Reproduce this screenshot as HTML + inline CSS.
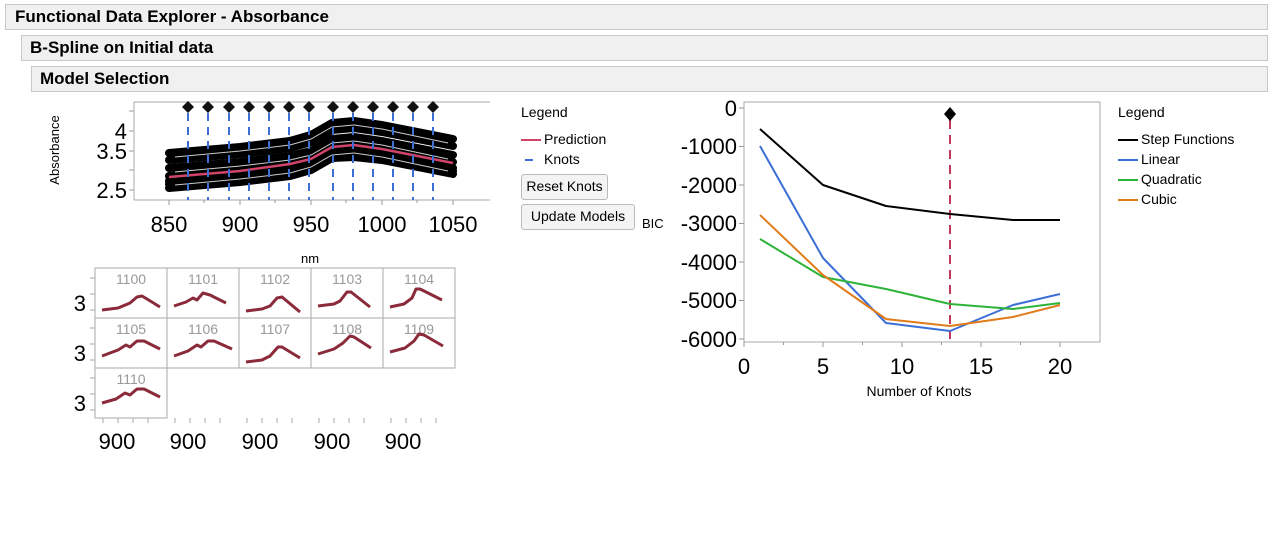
<!DOCTYPE html>
<html><head><meta charset="utf-8"><style>
body{margin:0;background:#fff;width:1270px;height:538px;overflow:hidden;font-family:"Liberation Sans",sans-serif}
.h{position:absolute;background:#f0f0f0;border:1px solid #c8c8c8;font-weight:bold;font-size:17px;color:#000;box-sizing:border-box;padding-left:8px;line-height:24px}
.t{position:absolute;font-size:14px;color:#000;white-space:nowrap}
.btn{position:absolute;border:1px solid #bbb;border-radius:3px;background:#f4f4f4;font-size:14px;box-sizing:border-box;text-align:center;line-height:23px}
</style></head><body>
<div class="h" style="left:5px;top:4px;width:1263px;height:26px;padding-left:9px">Functional Data Explorer - Absorbance</div>
<div class="h" style="left:21px;top:35px;width:1247px;height:26px">B-Spline on Initial data</div>
<div class="h" style="left:31px;top:66px;width:1237px;height:26px">Model Selection</div>

<svg width="1270" height="538" style="position:absolute;left:0;top:0" font-family="Liberation Sans, sans-serif">
<!-- left top chart -->
<g>
<line x1="134" y1="102" x2="490" y2="102" stroke="#aaa"/>
<line x1="134" y1="102" x2="134" y2="200" stroke="#aaa"/>
<line x1="134" y1="200" x2="490" y2="200" stroke="#aaa"/>
<g stroke="#999" stroke-width="1">
<line x1="129" y1="111" x2="134" y2="111"/><line x1="129" y1="131" x2="134" y2="131"/><line x1="129" y1="151" x2="134" y2="151"/><line x1="129" y1="170" x2="134" y2="170"/><line x1="129" y1="190" x2="134" y2="190"/>
<line x1="169" y1="200" x2="169" y2="205"/><line x1="240" y1="200" x2="240" y2="205"/><line x1="311" y1="200" x2="311" y2="205"/><line x1="382" y1="200" x2="382" y2="205"/><line x1="453" y1="200" x2="453" y2="205"/>
<line x1="204" y1="200" x2="204" y2="203"/><line x1="275" y1="200" x2="275" y2="203"/><line x1="346" y1="200" x2="346" y2="203"/><line x1="417" y1="200" x2="417" y2="203"/>
</g>
<g font-size="22" text-anchor="end"><text x="127" y="139">4</text><text x="127" y="159">3.5</text><text x="127" y="198">2.5</text></g>
<g font-size="22" text-anchor="middle"><text x="169" y="232">850</text><text x="240" y="232">900</text><text x="311" y="232">950</text><text x="382" y="232">1000</text><text x="453" y="232">1050</text></g>
<text x="310" y="263" font-size="13" text-anchor="middle">nm</text>
<text transform="translate(59,150) rotate(-90)" font-size="13" text-anchor="middle">Absorbance</text>
<g fill="none" stroke="#000" stroke-width="8" stroke-linejoin="round" stroke-linecap="round">
<polyline points="169,153 240,147 290,141 311,135 332,123 354,121 382,125 453,139"/>
<polyline points="169,160 240,154 290,148 311,142 332,130 354,128 382,132 453,146"/>
<polyline points="169,168 240,162 290,156 311,151 332,139 354,137 382,141 453,155"/>
<polyline points="169,176 240,170 290,164 311,158 332,147 354,145 382,149 453,162"/>
<polyline points="169,181 240,175 290,169 311,164 332,152 354,150 382,154 453,168"/>
<polyline points="169,188 240,182 290,176 311,170 332,158 354,157 382,160 453,174"/>
<polyline points="169,184 240,178 290,172 311,167 332,155 354,153 382,157 453,171"/>
</g>
<g fill="none" stroke="#fff" stroke-width="1" opacity="0.8">
<polyline points="175,157 240,151 290,145 311,139 332,127 354,125 382,129 448,143"/>
<polyline points="175,172 240,166 290,160 311,155 332,143 354,141 382,145 448,159"/>
<polyline points="175,185 240,179 290,173 311,167 332,155 354,153 382,157 448,171"/>
</g>
<polyline fill="none" stroke="#d0446a" stroke-width="2.5" points="169,177 240,171 290,164 311,159 332,147 354,145 382,149 453,163"/>
<g stroke="#3b6fd6" stroke-width="2" stroke-dasharray="8,6">
<line x1="188" y1="113" x2="188" y2="200"/><line x1="208" y1="113" x2="208" y2="200"/><line x1="229" y1="113" x2="229" y2="200"/><line x1="249" y1="113" x2="249" y2="200"/><line x1="269" y1="113" x2="269" y2="200"/><line x1="289" y1="113" x2="289" y2="200"/><line x1="309" y1="113" x2="309" y2="200"/><line x1="333" y1="113" x2="333" y2="200"/><line x1="353" y1="113" x2="353" y2="200"/><line x1="373" y1="113" x2="373" y2="200"/><line x1="393" y1="113" x2="393" y2="200"/><line x1="413" y1="113" x2="413" y2="200"/><line x1="433" y1="113" x2="433" y2="200"/>
</g>
<g fill="#111">
<path d="M188,101 l6,6 l-6,6 l-6,-6z"/><path d="M208,101 l6,6 l-6,6 l-6,-6z"/><path d="M229,101 l6,6 l-6,6 l-6,-6z"/><path d="M249,101 l6,6 l-6,6 l-6,-6z"/><path d="M269,101 l6,6 l-6,6 l-6,-6z"/><path d="M289,101 l6,6 l-6,6 l-6,-6z"/><path d="M309,101 l6,6 l-6,6 l-6,-6z"/><path d="M333,101 l6,6 l-6,6 l-6,-6z"/><path d="M353,101 l6,6 l-6,6 l-6,-6z"/><path d="M373,101 l6,6 l-6,6 l-6,-6z"/><path d="M393,101 l6,6 l-6,6 l-6,-6z"/><path d="M413,101 l6,6 l-6,6 l-6,-6z"/><path d="M433,101 l6,6 l-6,6 l-6,-6z"/>
</g>
</g>

<!-- small multiples -->
<g stroke="#aaa" fill="none">
<rect x="95" y="268" width="360" height="50"/>
<line x1="95" y1="318" x2="455" y2="318"/>
<line x1="167" y1="268" x2="167" y2="418"/><line x1="239" y1="268" x2="239" y2="368"/><line x1="311" y1="268" x2="311" y2="368"/><line x1="383" y1="268" x2="383" y2="368"/>
<rect x="95" y="318" width="360" height="50"/>
<rect x="95" y="368" width="72" height="50"/>
</g>
<g stroke="#aaa">
<line x1="90" y1="278" x2="95" y2="278"/><line x1="90" y1="294" x2="95" y2="294"/><line x1="90" y1="310" x2="95" y2="310"/>
<line x1="90" y1="328" x2="95" y2="328"/><line x1="90" y1="344" x2="95" y2="344"/><line x1="90" y1="360" x2="95" y2="360"/>
<line x1="90" y1="378" x2="95" y2="378"/><line x1="90" y1="394" x2="95" y2="394"/><line x1="90" y1="410" x2="95" y2="410"/>
<line x1="103" y1="418" x2="103" y2="423"/><line x1="118" y1="418" x2="118" y2="423"/><line x1="133" y1="418" x2="133" y2="423"/><line x1="148" y1="418" x2="148" y2="423"/>
<line x1="175" y1="418" x2="175" y2="423"/><line x1="190" y1="418" x2="190" y2="423"/><line x1="205" y1="418" x2="205" y2="423"/><line x1="220" y1="418" x2="220" y2="423"/>
<line x1="247" y1="418" x2="247" y2="423"/><line x1="262" y1="418" x2="262" y2="423"/><line x1="277" y1="418" x2="277" y2="423"/><line x1="292" y1="418" x2="292" y2="423"/>
<line x1="319" y1="418" x2="319" y2="423"/><line x1="334" y1="418" x2="334" y2="423"/><line x1="349" y1="418" x2="349" y2="423"/><line x1="364" y1="418" x2="364" y2="423"/>
<line x1="391" y1="418" x2="391" y2="423"/><line x1="406" y1="418" x2="406" y2="423"/><line x1="421" y1="418" x2="421" y2="423"/><line x1="436" y1="418" x2="436" y2="423"/>
</g>
<g font-size="14" fill="#999" text-anchor="middle">
<text x="131" y="284">1100</text><text x="203" y="284">1101</text><text x="275" y="284">1102</text><text x="347" y="284">1103</text><text x="419" y="284">1104</text>
<text x="131" y="334">1105</text><text x="203" y="334">1106</text><text x="275" y="334">1107</text><text x="347" y="334">1108</text><text x="419" y="334">1109</text>
<text x="131" y="384">1110</text>
</g>
<g font-size="22" text-anchor="end"><text x="86" y="311">3</text><text x="86" y="361">3</text><text x="86" y="411">3</text></g>
<g font-size="22" text-anchor="middle"><text x="117" y="449">900</text><text x="188" y="449">900</text><text x="260" y="449">900</text><text x="332" y="449">900</text><text x="403" y="449">900</text></g>
<g fill="none" stroke="#8a2a3a" stroke-width="3" stroke-linejoin="round">
<polyline points="102,310 118,308 130,303 137,297 142,296 147,299 160,307"/>
<polyline points="174,306 186,302 193,298 197,300 203,293 210,295 226,303"/>
<polyline points="246,311 262,309 270,306 277,298 282,297 300,312"/>
<polyline points="318,306 334,304 340,301 347,292 351,292 370,307"/>
<polyline points="390,307 404,304 412,298 416,289 420,289 442,300"/>
<polyline points="102,356 118,350 126,345 130,347 137,341 144,341 160,349"/>
<polyline points="174,356 188,351 197,345 201,347 208,341 214,341 232,349"/>
<polyline points="246,362 262,360 270,356 278,347 282,347 300,358"/>
<polyline points="318,354 334,349 343,343 350,336 354,337 371,348"/>
<polyline points="390,352 405,348 414,341 419,334 424,335 443,346"/>
<polyline points="102,403 116,399 125,393 130,395 137,389 144,389 160,397"/>
</g>

<!-- right chart -->
<g>
<rect x="744" y="102" width="356" height="240" fill="none" stroke="#aaa"/>
<g stroke="#999">
<line x1="739" y1="108" x2="744" y2="108"/><line x1="739" y1="146.5" x2="744" y2="146.5"/><line x1="739" y1="185" x2="744" y2="185"/><line x1="739" y1="223.5" x2="744" y2="223.5"/><line x1="739" y1="262" x2="744" y2="262"/><line x1="739" y1="300.5" x2="744" y2="300.5"/><line x1="739" y1="339" x2="744" y2="339"/>
<line x1="744" y1="342" x2="744" y2="347"/><line x1="823" y1="342" x2="823" y2="347"/><line x1="902" y1="342" x2="902" y2="347"/><line x1="981" y1="342" x2="981" y2="347"/><line x1="1060" y1="342" x2="1060" y2="347"/>
<line x1="783.5" y1="342" x2="783.5" y2="345"/><line x1="862.5" y1="342" x2="862.5" y2="345"/><line x1="941.5" y1="342" x2="941.5" y2="345"/><line x1="1020.5" y1="342" x2="1020.5" y2="345"/>
</g>
<g font-size="22" text-anchor="end"><text x="737" y="116">0</text><text x="737" y="154">-1000</text><text x="737" y="193">-2000</text><text x="737" y="231">-3000</text><text x="737" y="270">-4000</text><text x="737" y="308">-5000</text><text x="737" y="347">-6000</text></g>
<g font-size="22" text-anchor="middle"><text x="744" y="374">0</text><text x="823" y="374">5</text><text x="902" y="374">10</text><text x="981" y="374">15</text><text x="1060" y="374">20</text></g>
<text x="919" y="396" font-size="14" text-anchor="middle">Number of Knots</text>
<text x="642" y="228" font-size="13">BIC</text>
<line x1="950" y1="120" x2="950" y2="342" stroke="#c0395a" stroke-width="2" stroke-dasharray="9,6"/>
<path d="M950,107 l6,7 l-6,7 l-6,-7z" fill="#000"/>
<g fill="none" stroke-width="2" stroke-linejoin="round">
<polyline stroke="#000" points="760,129 823,185 886,206 950,214 1013,220 1060,220"/>
<polyline stroke="#3b6fd6" points="760,146 823,258 886,323 950,331 1013,305 1060,294"/>
<polyline stroke="#2db33a" points="760,239 823,277 886,289 950,304 1013,309 1060,303"/>
<polyline stroke="#e07c1a" points="760,215 823,275 886,319 950,326 1013,317 1060,305"/>
</g>
</g>

<!-- legends -->
<line x1="521" y1="140" x2="541" y2="140" stroke="#d0446a" stroke-width="2"/>
<line x1="525" y1="160" x2="533" y2="160" stroke="#3b6fd6" stroke-width="2"/>
<line x1="1118" y1="140" x2="1138" y2="140" stroke="#000" stroke-width="2"/>
<line x1="1118" y1="160" x2="1138" y2="160" stroke="#3b6fd6" stroke-width="2"/>
<line x1="1118" y1="180" x2="1138" y2="180" stroke="#2db33a" stroke-width="2"/>
<line x1="1118" y1="200" x2="1138" y2="200" stroke="#e07c1a" stroke-width="2"/>
</svg>
<div class="t" style="left:521px;top:104px">Legend</div>
<div class="t" style="left:544px;top:131px">Prediction</div>
<div class="t" style="left:544px;top:151px">Knots</div>
<div class="btn" style="left:521px;top:174px;width:87px;height:26px">Reset Knots</div>
<div class="btn" style="left:521px;top:204px;width:114px;height:26px">Update Models</div>
<div class="t" style="left:1118px;top:104px">Legend</div>
<div class="t" style="left:1141px;top:131px">Step Functions</div>
<div class="t" style="left:1141px;top:151px">Linear</div>
<div class="t" style="left:1141px;top:171px">Quadratic</div>
<div class="t" style="left:1141px;top:191px">Cubic</div>
</body></html>
